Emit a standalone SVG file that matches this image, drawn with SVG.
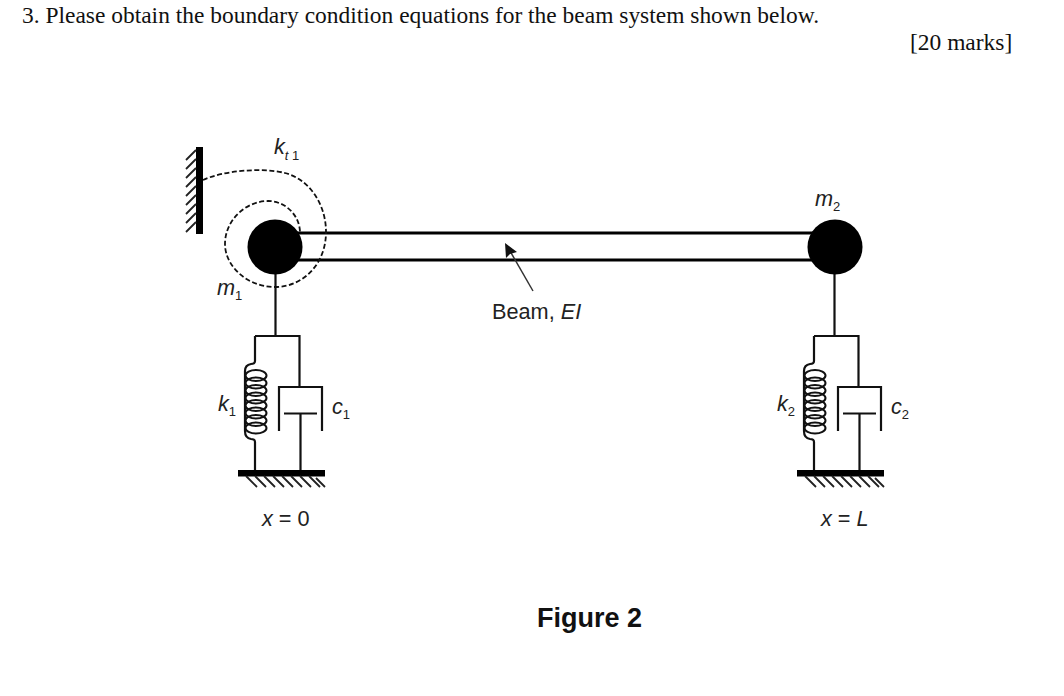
<svg xmlns="http://www.w3.org/2000/svg" width="1064" height="696" viewBox="0 0 1064 696">
<style>
.t{font-family:"Liberation Serif",serif;font-size:23.46px;fill:#111}
.l{font-family:"Liberation Sans",sans-serif;font-size:21.7px;fill:#222}
.i{font-style:italic}
.s{font-size:13px;font-style:normal}
.w{fill:none;stroke:#111;stroke-width:2.2}
.c{fill:none;stroke:#111;stroke-width:2}
.h{fill:none;stroke:#222;stroke-width:1.8}
.d{fill:none;stroke:#111;stroke-width:1.8;stroke-dasharray:5 2.5}
.b{fill:none;stroke:#000;stroke-width:3}
</style>
<defs>
<g id="support">
<path class="w" d="M275.5 274V336M255 336H299.5V387M255 336V361Q255 364 251 364Q245 365 245 371V431Q245 438 251 439Q255 439 255 442V470M279 431V387H322V431M284 413.5H317M300.5 413.5V470"/>
<g class="c">
<ellipse cx="256" cy="375.500" rx="10.500" ry="5.500"/>
<ellipse cx="256" cy="383" rx="10.500" ry="5.500"/>
<ellipse cx="256" cy="390.500" rx="10.500" ry="5.500"/>
<ellipse cx="256" cy="398" rx="10.500" ry="5.500"/>
<ellipse cx="256" cy="405.500" rx="10.500" ry="5.500"/>
<ellipse cx="256" cy="413" rx="10.500" ry="5.500"/>
<ellipse cx="256" cy="420.500" rx="10.500" ry="5.500"/>
<ellipse cx="256" cy="428" rx="10.500" ry="5.500"/>
</g>
<rect x="238" y="470" width="87" height="6.500" fill="#000"/>
<path class="h" d="M246 476l11 11M255 476l11 11M264 476l11 11M273 476l11 11M282 476l11 11M291 476l11 11M300 476l11 11M309 476l11 11M316 478l9 9"/>
</g>
</defs>
<rect width="1064" height="696" fill="#fff"/>
<text class="t" x="22" y="23">3. Please obtain the boundary condition equations for the beam system shown below.</text>
<text class="t" x="910" y="50">[20 marks]</text>
<g id="connectors">
<path class="b" d="M275 233H835M275 260H835"/>
<path d="M533 291L510 251" fill="none" stroke="#333" stroke-width="1.500"/>
<path d="M505 243L517 252L510 254L506 258Z" fill="#111"/>
<path class="d" d="M203 180C222 171 262 167 285 173C309 179 326 204 326 232C326 264 303 287 275 287C247 287 225 266 225 244C225 220 246 201 268 201C285 201 300 215 300 233"/>
</g>
<g id="wall">
<rect x="196" y="147" width="7" height="87" fill="#000"/>
<path class="h" d="M196 150l-10 10M196 159l-10 10M196 168l-10 10M196 177l-10 10M196 186l-10 10M196 195l-10 10M196 204l-10 10M196 213l-10 10M196 222l-10 10"/>
</g>
<g id="support-left"><use href="#support"/>
<text class="l i" x="218" y="411">k<tspan class="s" dy="5">1</tspan></text>
<text class="l i" x="332" y="414">c<tspan class="s" dy="5">1</tspan></text>
<text class="l i" x="262" y="526">x<tspan font-style="normal"> = 0</tspan></text></g>
<g id="support-right"><use href="#support" x="559"/>
<text class="l i" x="777" y="411">k<tspan class="s" dy="5">2</tspan></text>
<text class="l i" x="891" y="414">c<tspan class="s" dy="5">2</tspan></text>
<text class="l i" x="821" y="526">x<tspan font-style="normal"> = </tspan>L</text></g>
<g id="m1"><circle cx="275" cy="247" r="27.500" fill="#000"/><text class="l i" x="217" y="295">m<tspan class="s" dy="5">1</tspan></text></g>
<g id="m2"><circle cx="835" cy="247" r="27.500" fill="#000"/><text class="l i" x="815" y="206">m<tspan class="s" dy="5">2</tspan></text></g>
<g id="kt1"><text class="l i" x="274" y="154">k<tspan font-size="13px" dy="6">t</tspan><tspan class="s"> 1</tspan></text></g>
<g id="beam-label"><text class="l" x="492" y="319">Beam, <tspan class="i">EI</tspan></text></g>
<g id="caption"><text x="537" y="627" font-family="'Liberation Sans',sans-serif" font-size="27" font-weight="bold" fill="#111">Figure 2</text></g>
</svg>
